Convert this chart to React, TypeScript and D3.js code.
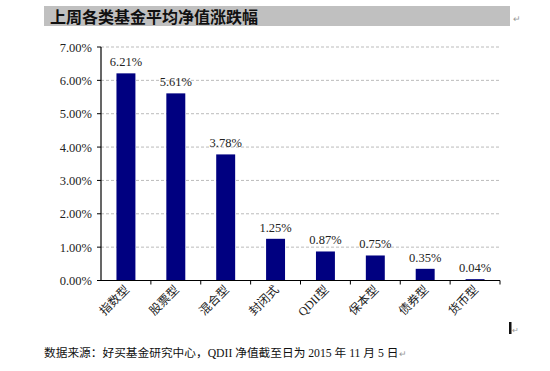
import React from "react";
import * as d3 from "d3";

const categories = ["指数型", "股票型", "混合型", "封闭式", "QDII型", "保本型", "债券型", "货币型"];
const values = [6.21, 5.61, 3.78, 1.25, 0.87, 0.75, 0.35, 0.04];
const yTicks = [0, 1, 2, 3, 4, 5, 6, 7];
const title = "上周各类基金平均净值涨跌幅";
const footnote = "数据来源：好买基金研究中心，QDII 净值截至日为 2015 年 11 月 5 日";

const W = 550, H = 371;
const left = 101, right = 500, top = 47, bottom = 280.5;
const serif = "'Liberation Serif', 'Noto Sans CJK SC', serif";
const cjk = "'Liberation Serif', 'Noto Sans CJK SC', sans-serif";

export default function App() {
  const x = d3.scaleBand<string>().domain(categories).range([left, right]).paddingInner(0.62).paddingOuter(0.31);
  const xb = d3.scaleBand<string>().domain(categories).range([left, right]);
  const y = d3.scaleLinear().domain([0, 7]).range([bottom, top]);
  return (
    <svg width={W} height={H} style={{ position: "absolute", left: 0, top: 0 }}>
      <rect x={0} y={0} width={W} height={H} fill="#fff" />
      <rect x={44} y={6} width={466} height={20} fill="#c0c0c0" />
      <text x={50} y={23} fontFamily="'Noto Sans CJK SC', sans-serif" fontWeight="bold" fontSize={16} fill="#111">{title}</text>
      <text x={513} y={22} fontSize={9} fill="#999" fontFamily="sans-serif">↵</text>
      {yTicks.slice(1).map((t) => (
        <line key={t} x1={left} x2={right} y1={y(t)} y2={y(t)} stroke="#bbb" strokeDasharray="3,2" strokeWidth={1} />
      ))}
      {yTicks.map((t) => (
        <g key={"yt" + t}>
          <line x1={left - 4} x2={left} y1={y(t)} y2={y(t)} stroke="#000" />
          <text x={92} y={y(t) + 4.5} textAnchor="end" fontFamily={serif} fontSize={12.5} fill="#222">{t.toFixed(2) + "%"}</text>
        </g>
      ))}
      {values.map((v, i) => (
        <g key={categories[i]}>
          <rect x={x(categories[i])} y={y(v)} width={x.bandwidth()} height={bottom - y(v)} fill="#000080" />
          <text x={(x(categories[i]) as number) + x.bandwidth() / 2} y={y(v) - 7} textAnchor="middle" fontFamily={serif} fontSize={12.5} fill="#222">{v.toFixed(2) + "%"}</text>
        </g>
      ))}
      <line x1={left} x2={left} y1={top} y2={bottom} stroke="#000" strokeWidth={1.2} />
      <line x1={left} x2={right} y1={bottom} y2={bottom} stroke="#000" strokeWidth={1.2} />
      {categories.map((c, i) => (
        <line key={"xt" + i} x1={(xb(c) as number) + xb.bandwidth()} x2={(xb(c) as number) + xb.bandwidth()} y1={bottom} y2={bottom + 4} stroke="#000" />
      ))}
      {categories.map((c) => {
        const cx = (xb(c) as number) + xb.bandwidth() / 2 + 4;
        const cy = bottom + 10;
        return (
          <text key={"xl" + c} x={cx} y={cy} textAnchor="end" transform={`rotate(-45 ${cx} ${cy})`} fontFamily={cjk} fontSize={12} fill="#222">{c}</text>
        );
      })}
      <rect x={509} y={322} width={2.5} height={12} fill="#111" />
      <text x={512} y={333} fontSize={8} fill="#999" fontFamily="sans-serif">↵</text>
      <text x={44} y={357} fontFamily={cjk} fontSize={11.7} fill="#111">
        {footnote}
        <tspan fontSize={9} fill="#999" fontFamily="sans-serif" dx={1}>↵</tspan>
      </text>
    </svg>
  );
}
